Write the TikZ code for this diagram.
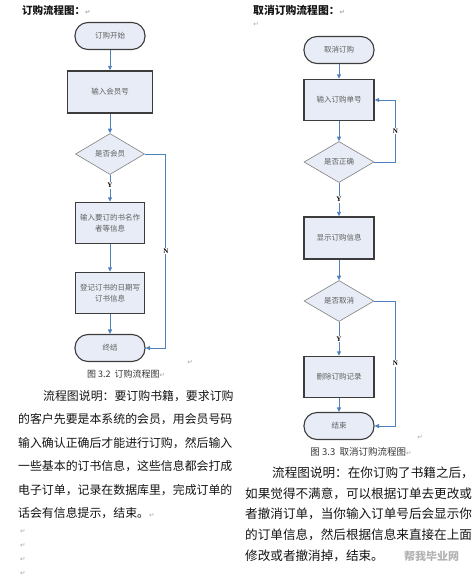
\documentclass[tikz,border=0pt]{standalone}
\usepackage{fontspec}
\setmainfont{Noto Sans CJK SC}
\newfontfamily\symfont{DejaVu Sans}
\newfontfamily\ynfont{Liberation Serif}
\usepackage{tikz}
\usetikzlibrary{arrows.meta,shapes.geometric}
\definecolor{flowBlue}{RGB}{79,129,189}
\definecolor{flowFill}{RGB}{231,236,246}
\definecolor{flowEdge}{RGB}{60,60,60}
\definecolor{flowText}{RGB}{95,95,95}
\definecolor{markGray}{RGB}{165,165,165}
\definecolor{paraText}{RGB}{20,20,20}
\newcommand{\ret}{{\symfont\color{markGray}\fontsize{6.5}{7}\selectfont ↵}}

\begin{document}
\begin{tikzpicture}[x=1pt,y=-1pt,
    >={Triangle[length=4.5pt,width=4pt]},
    terminal/.style={draw=flowEdge, line width=1.1pt, fill=flowFill, rounded corners=13pt,
        minimum width=70pt, minimum height=27pt, inner sep=0pt,
        font=\fontsize{7.5}{8.5}\selectfont, text=flowText},
    process/.style={draw=flowEdge, line width=1.4pt, fill=flowFill, minimum width=69pt,
        minimum height=41pt, inner sep=0pt, align=center,
        font=\fontsize{7.5}{10.5}\selectfont, text=flowText},
    decision/.style={diamond, draw=gray, line width=0.6pt, fill=flowFill, minimum width=69pt,
        minimum height=41pt, inner sep=0pt, font=\fontsize{7.5}{8.5}\selectfont, text=flowText},
    flow/.style={flowBlue, line width=0.9pt, ->},
    yn/.style={fill=white, inner sep=1pt, font=\ynfont\bfseries\fontsize{7}{7}\selectfont, text=black},
    para/.style={anchor=west, inner sep=0pt, text=paraText},
    caption/.style={inner sep=0pt, text=black!80, font=\fontsize{9}{10}\selectfont},
    retmark/.style={inner sep=0pt}]
    \useasboundingbox (0,0) rectangle (474,579);

    % order flow
    \begin{scope}
        \node[para, font=\bfseries\fontsize{10.5}{11}\selectfont] (orderTitle) at (22,10) {订购流程图：\ret};
        \node[terminal] (orderStart) at (110,36) {订购开始};
        \node[process, minimum width=85pt, minimum height=42pt] (memberNo) at (110,92) {输入会员号};
        \node[decision] (isMember) at (110,154) {是否会员};
        \node[process] (bookInfo) at (110,223) {输入要订的书名作\\者等信息};
        \node[process] (saveOrder) at (110,293) {登记订书的日期写\\订书信息};
        \node[terminal] (orderEnd) at (110,348) {终结};
        \draw[flow] (orderStart) -- (memberNo);
        \draw[flow] (memberNo) -- (isMember);
        \draw[flow] (isMember) -- node[yn, pos=0.4] {Y} (bookInfo);
        \draw[flow] (bookInfo) -- (saveOrder);
        \draw[flow] (saveOrder) -- (orderEnd);
        \draw[flow] (isMember.east) -- ++(21,0) |- node[yn, pos=0.25] {N} (orderEnd.east);
        \node[retmark] (orderMark) at (190,362) {\ret};
        \node[caption] (orderCap) at (126,374) {图 3.2\ \ 订购流程图\ret};
    \end{scope}

    % cancel flow
    \begin{scope}
        \node[para, font=\bfseries\fontsize{10.8}{11}\selectfont] (cancelTitle) at (253,10) {取消订购流程图：\ret};
        \node[retmark] (cancelMark) at (256,24) {\ret};
        \node[terminal] (cancelStart) at (339,50) {取消订购};
        \node[process, minimum width=70pt] (orderNo) at (339,100) {输入订购单号};
        \node[decision, minimum width=70pt] (isRight) at (339,162) {是否正确};
        \node[process, minimum width=70pt, minimum height=42pt] (showInfo) at (339,238) {显示订购信息};
        \node[decision, minimum width=70pt] (isCancel) at (339,301) {是否取消};
        \node[process, minimum width=70pt] (delRecord) at (339,377) {删除订购记录};
        \node[terminal] (cancelEnd) at (339,426) {结束};
        \draw[flow] (cancelStart) -- (orderNo);
        \draw[flow] (orderNo) -- (isRight);
        \draw[flow] (isRight) -- node[yn] {Y} (showInfo);
        \draw[flow] (showInfo) -- (isCancel);
        \draw[flow] (isCancel) -- node[yn] {Y} (delRecord);
        \draw[flow] (delRecord) -- (cancelEnd);
        \draw[flow] (isRight.east) -- ++(21,0) |- node[yn, pos=0.25] {N} (orderNo.east);
        \draw[flow] (isCancel.east) -- ++(21,0) |- node[yn, pos=0.25] {N} (cancelEnd.east);
        \node[retmark] (cancelEndMark) at (420,437) {\ret};
        \node[caption, font=\fontsize{9.5}{10}\selectfont] (cancelCap) at (361,452) {图 3.3\ \ 取消订购流程图\ret};
    \end{scope}

    % notes
    \begin{scope}[font=\fontsize{11.9}{12}\selectfont]
        \node[para] (orderNote1) at (43,396) {流程图说明：要订购书籍，要求订购};
        \node[para] (orderNote2) at (18,419) {的客户先要是本系统的会员，用会员号码};
        \node[para] (orderNote3) at (18,443) {输入确认正确后才能进行订购，然后输入};
        \node[para] (orderNote4) at (18,466) {一些基本的订书信息，这些信息都会打成};
        \node[para] (orderNote5) at (18,490) {电子订单，记录在数据库里，完成订单的};
        \node[para] (orderNote6) at (18,513) {话会有信息提示，结束。\ret};
        \foreach \y [count=\i] in {531,545,559,573}
            \node[retmark, anchor=west] (blank\i) at (20,\y) {\ret};
    \end{scope}
    \begin{scope}[font=\fontsize{12.6}{13}\selectfont]
        \node[para] (cancelNote1) at (272,473) {流程图说明：在你订购了书籍之后，};
        \node[para] (cancelNote2) at (245,494) {如果觉得不满意，可以根据订单去更改或};
        \node[para] (cancelNote3) at (245,514) {者撤消订单，当你输入订单号后会显示你};
        \node[para] (cancelNote4) at (245,535) {的订单信息，然后根据信息来直接在上面};
        \node[para] (cancelNote5) at (245,556) {修改或者撤消掉，结束。};
        \node[para, text=black!30, font=\bfseries\fontsize{11}{11}\selectfont] (stamp) at (404,556) {帮我毕业网};
    \end{scope}
\end{tikzpicture}
\end{document}
